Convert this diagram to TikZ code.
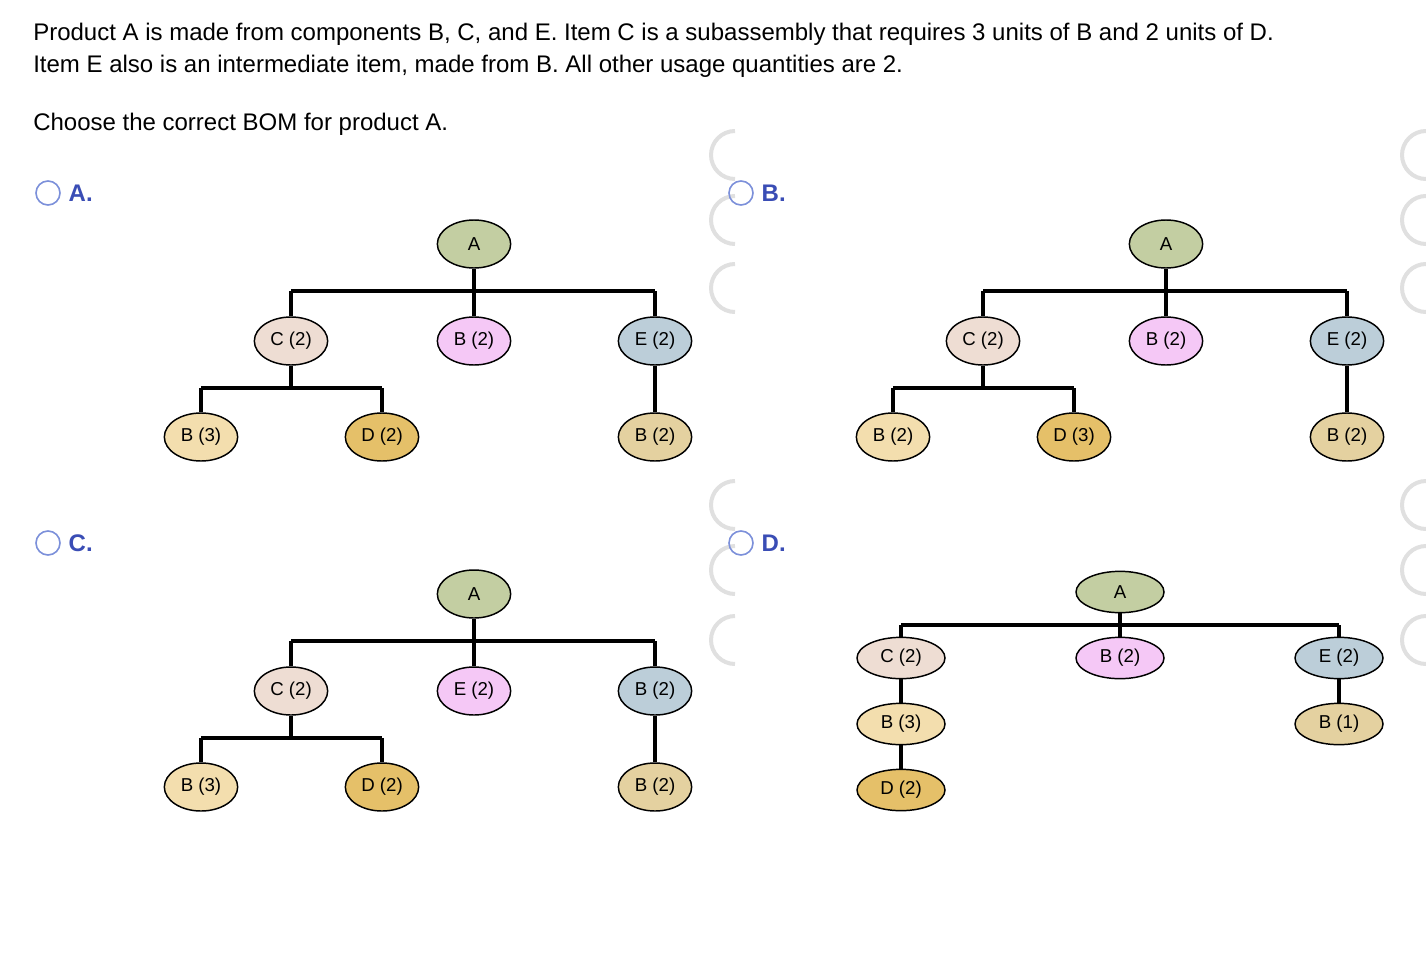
\documentclass[tikz,border=0pt]{standalone}
\usepackage{fontspec}
\setmainfont{Liberation Sans}
\usetikzlibrary{shapes.geometric}
\definecolor{cA}{HTML}{C3CEA2}
\definecolor{cC}{HTML}{EEDDD3}
\definecolor{cBp}{HTML}{F5C8F6}
\definecolor{cE}{HTML}{BCCED9}
\definecolor{cB3}{HTML}{F3DEAE}
\definecolor{cD}{HTML}{E5C069}
\definecolor{cBE}{HTML}{E4D1A0}
\definecolor{radio}{HTML}{7C90DA}
\definecolor{lab}{HTML}{3A4DB5}
\tikzset{
  bom/.style={ellipse,draw=black,line width=1.1pt,minimum width=55pt,minimum height=36pt,inner sep=0pt,font=\fontsize{14}{16}\selectfont},
  bomw/.style={bom,minimum width=66pt,minimum height=31pt},
  link/.style={line width=2.6pt},
  rad/.style={circle,draw=radio,line width=1.2pt,minimum size=18pt,inner sep=0pt},
  opt/.style={text=lab,font=\fontsize{18}{20}\selectfont\bfseries,anchor=west},
  txt/.style={anchor=west,font=\fontsize{18}{22}\selectfont,inner sep=0pt},
  ghost/.style={draw=black!12,line width=3pt}
}
\newcommand{\bomtree}[7]{%
  \node[bom,fill=cA] (#1a) at (474,244) {A};
  \node[bom,fill=cC] (#1c) at (291,341) {C (2)};
  \node[bom,fill=#3] (#1m) at (474,341) {#2};
  \node[bom,fill=#5] (#1e) at (655,341) {#4};
  \node[bom,fill=cB3] (#1b) at (201,437) {#6};
  \node[bom,fill=cD] (#1d) at (382,437) {#7};
  \node[bom,fill=cBE] (#1f) at (655,437) {B (2)};
  \coordinate (#1h) at (474,291);
  \coordinate (#1l) at (291,388);
  \draw[link] (#1a) -- (#1m);
  \draw[link] (#1c.north |- #1h) -- (#1e.north |- #1h);
  \draw[link] (#1c.north |- #1h) -- (#1c.north);
  \draw[link] (#1e.north |- #1h) -- (#1e.north);
  \draw[link] (#1c) -- (#1l);
  \draw[link] (#1b.north |- #1l) -- (#1d.north |- #1l);
  \draw[link] (#1b.north |- #1l) -- (#1b.north);
  \draw[link] (#1d.north |- #1l) -- (#1d.north);
  \draw[link] (#1e) -- (#1f);
}
\begin{document}
\begin{tikzpicture}[x=0.75pt,y=-0.75pt]
\useasboundingbox[fill=white] (0,0) rectangle (1426,956);
\node[txt] (t1) at (33,34) {Product A is made from components B, C, and E. Item C is a subassembly that requires 3 units of B and 2 units of D.};
\node[txt] (t2) at (33,66) {Item E also is an intermediate item, made from B. All other usage quantities are 2.};
\node[txt] (t3) at (33,124) {Choose the correct BOM for product A.};
% ghost arcs
\foreach \y in {203,268,336,553,618,688} {
  \draw[ghost] (738,\y+22) arc (90:270:-0pt and 0pt);
  \draw[ghost] (735,\y-24) arc (90:270:24);
  \draw[ghost] (1426,\y-24) arc (90:270:24);
}
% radios
\node[rad] (ra) at (48,193) {}; \node[opt] (la) at (64,193) {A.};
\node[rad] (rb) at (741,193) {}; \node[opt] (lb) at (757,193) {B.};
\node[rad] (rc) at (48,543) {}; \node[opt] (lc) at (64,543) {C.};
\node[rad] (rd) at (741,543) {}; \node[opt] (ld) at (757,543) {D.};
% A
\bomtree{p}{B (2)}{cBp}{E (2)}{cE}{B (3)}{D (2)}
% B
\begin{scope}[shift={(692,0)}]
\bomtree{q}{B (2)}{cBp}{E (2)}{cE}{B (2)}{D (3)}
\end{scope}
% C
\begin{scope}[shift={(0,350)}]
\bomtree{r}{E (2)}{cBp}{B (2)}{cE}{B (3)}{D (2)}
\end{scope}
% D
\node[bomw,fill=cA] (sa) at (1120,592) {A};
\node[bomw,fill=cC] (sc) at (901,658) {C (2)};
\node[bomw,fill=cBp] (sb) at (1120,658) {B (2)};
\node[bomw,fill=cE] (se) at (1339,658) {E (2)};
\node[bomw,fill=cB3] (sb3) at (901,724) {B (3)};
\node[bomw,fill=cD] (sd) at (901,790) {D (2)};
\node[bomw,fill=cBE] (sb1) at (1339,724) {B (1)};
\coordinate (sh) at (1120,625);
\draw[link] (sa) -- (sb);
\draw[link] (sc.north |- sh) -- (se.north |- sh);
\draw[link] (sc.north |- sh) -- (sc.north);
\draw[link] (se.north |- sh) -- (se.north);
\draw[link] (sc) -- (sb3);
\draw[link] (sb3) -- (sd);
\draw[link] (se) -- (sb1);
\end{tikzpicture}
\end{document}
